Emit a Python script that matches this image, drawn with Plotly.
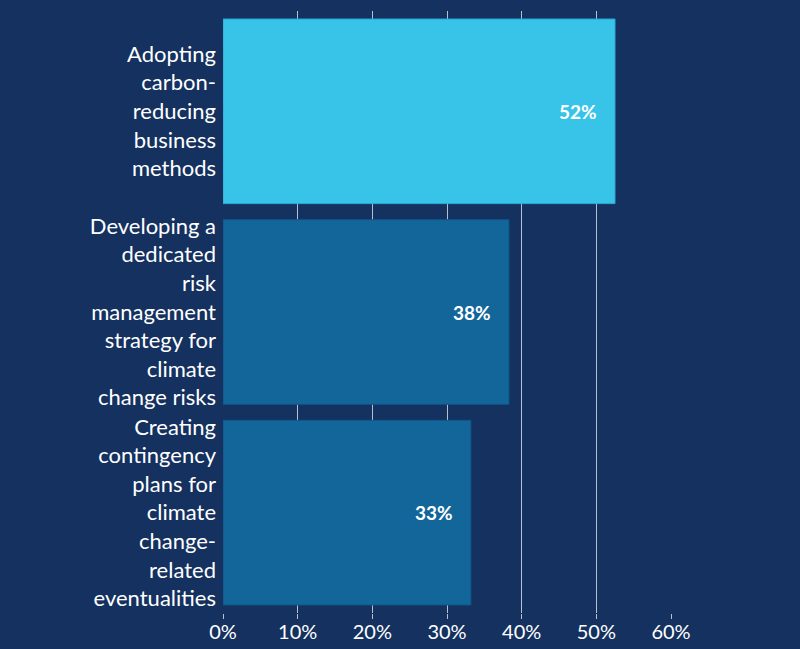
import plotly.graph_objects as go

# Données
categories = [
    "Adopting<br>carbon-<br>reducing<br>business<br>methods",
    "Developing a<br>dedicated<br>risk<br>management<br>strategy for<br>climate<br>change risks",
    "Creating<br>contingency<br>plans for<br>climate<br>change-<br>related<br>eventualities",
]
values = [52.5, 38.3, 33.2]
value_labels = ["52%", "38%", "33%"]
bar_colors = ["#38c3e8", "#13669a", "#13669a"]
line_colors = ["#2aa6d2", "#0f5787", "#0f5787"]
tick_vals = [0, 10, 20, 30, 40, 50, 60]
tick_text = ["0%", "10%", "20%", "30%", "40%", "50%", "60%"]

bg = "#14315f"
grid = "#b9c0cd"

fig = go.Figure()
fig.add_trace(go.Bar(
    y=categories, x=values, orientation="h",
    marker=dict(color=bar_colors, line=dict(color=line_colors, width=1)),
    hoverinfo="skip",
))

# Étiquettes de valeur à l'intérieur des barres
for cat, v, lab in zip(categories, values, value_labels):
    fig.add_annotation(x=v, y=cat, text="<b>" + lab + "</b>", showarrow=False,
                       xanchor="right", xshift=-16,
                       font=dict(family="Lato", size=19, color="white"))

fig.update_layout(
    width=800, height=649,
    paper_bgcolor=bg, plot_bgcolor=bg,
    margin=dict(l=223, r=129, t=11, b=36),
    bargap=0.08, showlegend=False,
    font=dict(family="Lato", color="white"),
)
fig.update_xaxes(range=[0, 60], tickvals=tick_vals, ticktext=tick_text,
                 showgrid=True, gridcolor=grid, gridwidth=1, zeroline=False,
                 ticks="outside", ticklen=5, tickcolor=grid,
                 tickfont=dict(family="Lato", size=20, color="white"),
                 ticklabelstandoff=-4, showline=False, automargin=False)
fig.update_yaxes(autorange="reversed", showgrid=False,
                 tickfont=dict(family="Lato", size=22, color="white"),
                 ticks="", ticklabelstandoff=6, showline=False, automargin=False)

# enlever la marge de la page
fig.write_html("out.html", config={"displayModeBar": False},
               post_script="document.body.style.margin='0';document.body.style.background='#14315f';")
